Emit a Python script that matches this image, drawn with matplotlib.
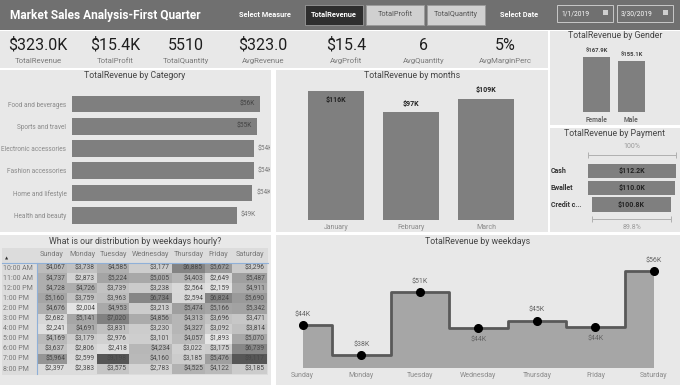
import numpy as np
import matplotlib.pyplot as plt
from matplotlib.patches import Rectangle
from matplotlib.colors import LinearSegmentedColormap, Normalize

plt.rcParams['font.family'] = ['Roboto', 'DejaVu Sans']

# ---------------------------------------------------------------- data
kpi_values = ['$323.0K', '$15.4K', '5510', '$323.0', '$15.4', '6', '5%']
kpi_labels = ['TotalRevenue', 'TotalProfit', 'TotalQuantity', 'AvgRevenue',
              'AvgProfit', 'AvgQuantity', 'AvgMarginPerc']
measures = ['TotalRevenue', 'TotalProfit', 'TotalQuantity']
dates = ['1/1/2019', '3/30/2019']

categories = ['Food and beverages', 'Sports and travel', 'Electronic accessories',
              'Fashion accessories', 'Home and lifestyle', 'Health and beauty']
cat_revenue = [56.14, 55.12, 54.34, 54.31, 53.86, 49.19]        # $K

months = ['January', 'February', 'March']
month_revenue = [116.29, 97.22, 109.46]                          # $K

genders = ['Female', 'Male']
gender_revenue = [167.9, 155.1]                                  # $K

payments = ['Cash', 'Ewallet', 'Credit c...']
payment_revenue = [112.2, 110.0, 100.8]                          # $K

weekdays = ['Sunday', 'Monday', 'Tuesday', 'Wednesday', 'Thursday', 'Friday', 'Saturday']
weekday_revenue = [44.46, 37.90, 51.48, 43.73, 45.35, 43.93, 56.12]  # $K

hours = ['10:00 AM', '11:00 AM', '12:00 PM', '1:00 PM', '2:00 PM', '3:00 PM',
         '4:00 PM', '5:00 PM', '6:00 PM', '7:00 PM', '8:00 PM']
hourly = np.array([
    [4067, 3738, 4585, 3177, 6885, 5672, 3296],
    [4737, 2873, 5224, 5005, 4403, 2649, 5487],
    [4728, 4726, 3739, 3238, 2564, 2159, 4911],
    [5160, 3759, 3963, 6734, 2594, 6824, 5690],
    [4676, 2004, 4953, 3213, 5474, 5166, 5342],
    [2682, 5141, 7020, 4856, 4313, 3696, 3471],
    [2241, 4691, 3831, 3230, 4327, 3092, 3814],
    [4169, 3179, 2976, 3101, 4057, 1893, 5070],
    [3637, 2806, 2418, 4234, 3022, 3175, 6739],
    [5964, 2599, 9198, 4160, 3185, 5476, 9117],
    [2397, 2383, 3575, 2783, 4525, 4122, 3185],
])

# ---------------------------------------------------------------- layout
W, H = 680, 385
PANEL = '#e8e8e8'
BAR = '#7f7f7f'
TITLE = '#454545'


def px(x, y, w, h):
    return [x / W, 1 - (y + h) / H, w / W, h / H]


def clean(ax):
    ax.set_facecolor('none')
    for s in ax.spines.values():
        s.set_visible(False)
    ax.tick_params(length=0)


fig = plt.figure(figsize=(6.8, 3.85), dpi=100)
fig.patch.set_facecolor('white')

bg = fig.add_axes([0, 0, 1, 1])
bg.set_xlim(0, W)
bg.set_ylim(H, 0)
bg.axis('off')

# panels
for (x, y, w, h) in [(0, 31, 548, 37), (550, 31, 130, 94), (550, 128, 130, 104),
                     (0, 70, 271, 162), (276, 70, 272, 162),
                     (0, 235, 271, 150), (276, 235, 404, 150)]:
    bg.add_patch(Rectangle((x, y), w, h, color=PANEL, lw=0))

# header
bg.add_patch(Rectangle((0, 0), W, 30, color='#707070', lw=0))
bg.text(10, 16, 'Market Sales Analysis-First Quarter', color='white',
        fontsize=8.6, fontweight='bold', va='center')
bg.text(265, 15, 'Select Measure', color='white', fontsize=5.3,
        fontweight='bold', ha='center', va='center')
for i, m in enumerate(measures):
    x0 = 305 + i * 61
    sel = i == 0
    bg.add_patch(Rectangle((x0, 5), 58, 20, facecolor='#2e2e2e' if sel else '#d0d0d0',
                           edgecolor='#9a9a9a', lw=0.6))
    bg.text(x0 + 29, 15, m, color='white' if sel else '#555555', fontsize=5.3,
            fontweight='bold' if sel else 'normal', ha='center', va='center')
bg.text(519, 15, 'Select Date', color='white', fontsize=5.3, fontweight='bold',
        ha='center', va='center')
for i, d in enumerate(dates):
    x0 = 557 + i * 60
    bg.add_patch(Rectangle((x0, 5), 56, 17, facecolor='none', edgecolor='#c8c8c8', lw=0.7))
    bg.text(x0 + 4, 13.5, d, color='white', fontsize=4.8, va='center')
    bg.add_patch(Rectangle((x0 + 46, 10), 5, 5, facecolor='#cfcfcf', edgecolor='none'))

# KPI cards
kpi_x = [38, 115, 186, 263, 346, 424, 505]
for xc, v, lab in zip(kpi_x, kpi_values, kpi_labels):
    bg.text(xc, 45, v, fontsize=11.5, color='#1e1e1e', ha='center', va='center')
    bg.text(xc, 61, lab, fontsize=5.6, color='#7a7a7a', ha='center', va='center')

# panel titles
for xc, yc, t in [(135, 76, 'TotalRevenue by Category'), (412, 75, 'TotalRevenue by months'),
                  (615, 36, 'TotalRevenue by Gender'), (615, 134, 'TotalRevenue by Payment'),
                  (135, 241, 'What is our distribution by weekdays hourly?'),
                  (478, 242, 'TotalRevenue by weekdays')]:
    bg.text(xc, yc, t, fontsize=6.3, color=TITLE, ha='center', va='center')

# ---------------------------------------------------------------- category bars
ax = fig.add_axes(px(72, 92.9, 198, 133.4))
clean(ax)
yy = np.arange(len(categories))
ax.barh(yy, cat_revenue, height=0.76, color=BAR)
ax.set_ylim(len(categories) - 0.5, -0.5)
ax.set_xlim(0, 198 / 3.35)
ax.set_xticks([])
ax.set_yticks(yy, categories)
ax.tick_params(axis='y', labelsize=4.7, labelcolor='#8a8a8a', pad=4)
for i, v in enumerate(cat_revenue):
    if v > 55:
        ax.text(v - 1.5, i, f'${v:.0f}K', fontsize=4.8, color='#444444', ha='right', va='center')
    else:
        ax.text(v + 1.2, i, f'${v:.0f}K', fontsize=4.8, color='#7a7a7a', ha='left', va='center',
                clip_on=True)

# ---------------------------------------------------------------- months
ax = fig.add_axes(px(299, 80, 224.5, 140))
clean(ax)
xm = np.arange(len(months))
ax.bar(xm, month_revenue, width=0.75, color=BAR)
ax.set_xlim(-0.5, len(months) - 0.5)
top = 140 / 1.109
ax.set_ylim(0, top)
ax.set_yticks([])
ax.set_xticks(xm, months)
ax.tick_params(axis='x', labelsize=5, labelcolor='#8a8a8a', pad=3)
for i, v in enumerate(month_revenue):
    if v + 10 > top:
        ax.text(i, v - 8, f'${v:.0f}K', fontsize=5, fontweight='bold', color='#222222',
                ha='center', va='center')
    else:
        ax.annotate(f'${v:.0f}K', (i, v), xytext=(0, 3), textcoords='offset points',
                    fontsize=5, fontweight='bold', color='#222222', ha='center', va='bottom')

# ---------------------------------------------------------------- gender
ax = fig.add_axes(px(579, 40, 70, 72.3))
clean(ax)
xg = np.arange(len(genders))
ax.bar(xg, gender_revenue, width=0.77, color=BAR)
ax.set_xlim(-0.5, len(genders) - 0.5)
ax.set_ylim(0, 72.3 / 0.331)
ax.set_yticks([])
ax.set_xticks(xg, genders)
ax.tick_params(axis='x', labelsize=4.8, labelcolor='#666666', pad=3)
for lab in ax.get_xticklabels():
    lab.set_fontweight('bold')
for i, v in enumerate(gender_revenue):
    ax.annotate(f'${v:.1f}K', (i, v), xytext=(0, 2.5), textcoords='offset points',
                fontsize=4.2, fontweight='bold', color='#444444', ha='center', va='bottom')

# ---------------------------------------------------------------- payment funnel
ax = fig.add_axes(px(587.6, 140, 88, 92))
clean(ax)
ax.set_xticks([])
ax.set_yticks([])
pv = np.array(payment_revenue)
half = pv[0] / 2
ax.set_xlim(-half, half)
ax.set_ylim(3.64, -1.85)
yp = np.arange(len(payments))
ax.barh(yp, pv, left=-pv / 2, height=0.86, color=BAR)
for i, (p, v) in enumerate(zip(payments, pv)):
    ax.text(0, i, f'${v:.1f}K', fontsize=5, fontweight='bold', color='#222222',
            ha='center', va='center')
    ax.text(-half - 46.7, i, p, fontsize=5, fontweight='bold', color='#333333',
            ha='left', va='center', clip_on=False)
ax.plot([-half, half], [-0.955, -0.955], color='#b0b0b0', lw=0.7, marker='|', ms=4, mew=0.7)
ax.text(0, -1.45, '100%', fontsize=5, color='#9a9a9a', ha='center', va='center')
hl = pv[-1] / 2
ax.plot([-hl, hl], [2.87, 2.87], color='#b0b0b0', lw=0.7, marker='|', ms=4, mew=0.7)
ax.text(0, 3.38, f'{pv[-1] / pv[0] * 100:.1f}%', fontsize=5, color='#9a9a9a',
        ha='center', va='center')

# ---------------------------------------------------------------- heatmap table
bg.add_patch(Rectangle((2, 248), 266, 127, color='#dcdcdc', lw=0))
col_edges = np.array([37, 67, 97, 129, 172, 205, 232, 267])
row_edges = 263 + 10.1 * np.arange(len(hours) + 1)
cmap = LinearSegmentedColormap.from_list('grey', ['#e6e6e6', '#555555'])
bg.pcolormesh(col_edges, row_edges, hourly, cmap=cmap,
              norm=Normalize(hourly.min(), hourly.max()), zorder=2)
for j, d in enumerate(weekdays):
    bg.text((col_edges[j] + col_edges[j + 1]) / 2, 255, d, fontsize=5.2,
            color='#777777', ha='center', va='center')
for i, h in enumerate(hours):
    yc = (row_edges[i] + row_edges[i + 1]) / 2
    bg.text(3, yc, h, fontsize=5, color='#777777', va='center')
    for j in range(len(weekdays)):
        bg.text(col_edges[j + 1] - 2, yc, f'${hourly[i, j]:,}', fontsize=4.8,
                color='#484848', ha='right', va='center', zorder=3)
bg.plot([2, 268], [263, 263], color='#8fb0d8', lw=0.8, zorder=3)
bg.plot([37, 37], [263, row_edges[-1]], color='#8fb0d8', lw=0.8, zorder=3)
bg.text(7, 259, '▲', fontsize=3, color='#333333', ha='center', va='center',
        family=['DejaVu Sans'])

# ---------------------------------------------------------------- weekdays step
ax = fig.add_axes(px(290, 250, 378, 118))
clean(ax)
xw = np.arange(len(weekdays))
base = 35.08
ax.set_xlim(-0.217, 6.239)
ax.set_ylim(base, 60.68)
ax.fill_between(xw, weekday_revenue, base, step='mid', color='#a6a6a6', lw=0)
ax.step(xw, weekday_revenue, where='mid', color='#595959', lw=2)
ax.plot(xw, weekday_revenue, 'o', color='black', ms=5.5)
ax.set_yticks([])
ax.set_xticks(xw, weekdays)
ax.tick_params(axis='x', labelsize=5, labelcolor='#8a8a8a', pad=3)
for i, v in enumerate(weekday_revenue):
    below = v < weekday_revenue[i - 1] and i + 1 < len(weekday_revenue) \
        and v < weekday_revenue[i + 1] and i != 1
    ax.annotate(f'${v:.0f}K', (i, v), xytext=(0, -8.5 if below else 7.5),
                textcoords='offset points', fontsize=5, color='#666666',
                ha='center', va='center')

fig.savefig('out.png', dpi=100, facecolor='white')
